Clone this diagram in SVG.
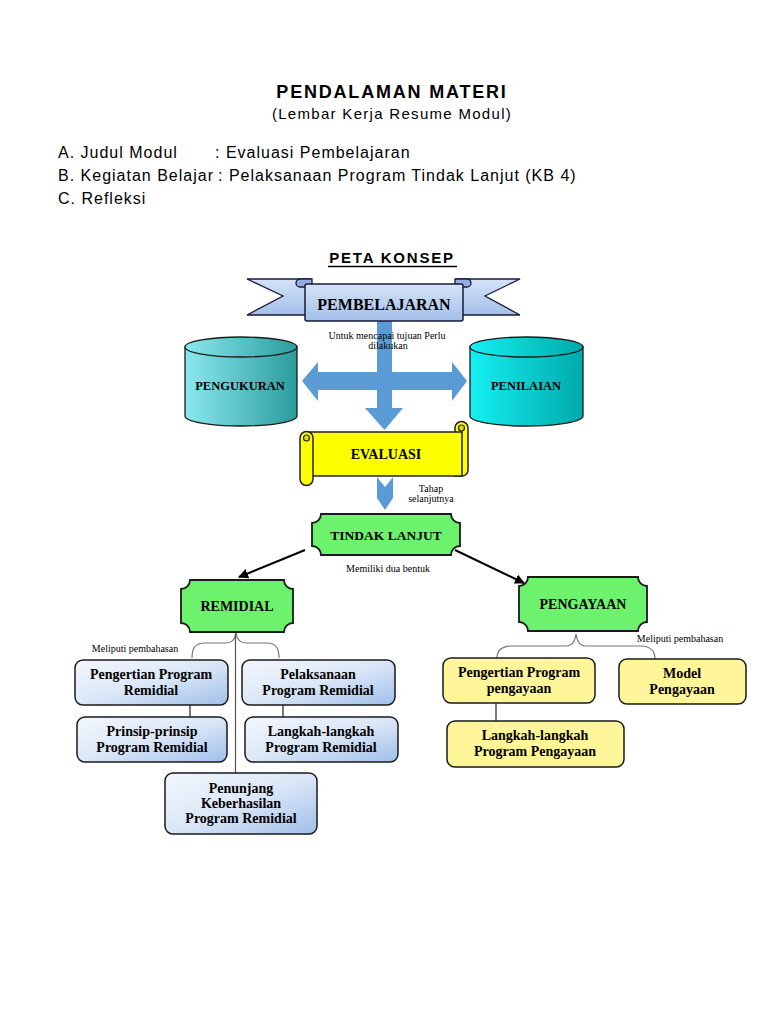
<svg xmlns="http://www.w3.org/2000/svg" width="768" height="1024" viewBox="0 0 768 1024">
<defs>
<linearGradient id="gBlue" x1="0" y1="0" x2="1" y2="1"><stop offset="0" stop-color="#f3f7fd"/><stop offset="0.5" stop-color="#dbe7f7"/><stop offset="1" stop-color="#9fbfea"/></linearGradient>
<linearGradient id="gRib" x1="0" y1="0" x2="0" y2="1"><stop offset="0" stop-color="#d5e3f7"/><stop offset="1" stop-color="#a3c0ea"/></linearGradient>
<linearGradient id="gCylL" x1="0" y1="0" x2="1" y2="0"><stop offset="0" stop-color="#8ae8ee"/><stop offset="1" stop-color="#2a9c9e"/></linearGradient>
<linearGradient id="gCylR" x1="0" y1="0" x2="1" y2="0"><stop offset="0" stop-color="#14f0f2"/><stop offset="1" stop-color="#00a9aa"/></linearGradient>
<marker id="ah" viewBox="0 0 10 10" refX="9" refY="5" markerWidth="5" markerHeight="5" orient="auto"><path d="M0,0 L10,5 L0,10 Z" fill="#000"/></marker>
<style>
.hd{font-family:"Liberation Sans",Arial,sans-serif;fill:#000}
.nb{font-family:"Liberation Serif","Times New Roman",serif;font-weight:bold;fill:#000;text-anchor:middle}
.sm{font-family:"Liberation Serif","Times New Roman",serif;font-size:10px;fill:#000;text-anchor:middle}
.box{fill:url(#gBlue);stroke:#1a1a1a;stroke-width:1.5}
.ybox{fill:#fff69a;stroke:#1a1a1a;stroke-width:1.5}
.plq{fill:#6cf26c;stroke:#1a1a1a;stroke-width:1.8}
.cyl{stroke:#1a1a1a;stroke-width:1.3}
.conn{fill:none;stroke:#222;stroke-width:1.2}
.brace{fill:none;stroke:#777;stroke-width:1.2}
.arw{fill:none;stroke:#000;stroke-width:2;marker-end:url(#ah)}
.blu{fill:#5b9bd5}
</style>
</defs>
<rect width="768" height="1024" fill="#fff"/>

<g id="header">
<text class="hd" x="392" y="98" font-size="18" font-weight="bold" letter-spacing="1.8" text-anchor="middle">PENDALAMAN MATERI</text>
<text class="hd" x="392" y="119" font-size="15" letter-spacing="1.3" text-anchor="middle">(Lembar Kerja Resume Modul)</text>
<text class="hd" x="58" y="158" font-size="16" letter-spacing="1">A. Judul Modul</text>
<text class="hd" x="215" y="158" font-size="16" letter-spacing="1">: Evaluasi Pembelajaran</text>
<text class="hd" x="58" y="181" font-size="16" letter-spacing="1">B. Kegiatan Belajar</text>
<text class="hd" x="218" y="181" font-size="16" letter-spacing="1">: Pelaksanaan Program Tindak Lanjut (KB 4)</text>
<text class="hd" x="58" y="204" font-size="16" letter-spacing="1">C. Refleksi</text>
<text class="hd" x="392" y="263" font-size="15" font-weight="bold" letter-spacing="1.8" text-anchor="middle">PETA KONSEP</text>
<line x1="328" y1="266.5" x2="457" y2="266.5" stroke="#000" stroke-width="1.3"/>
</g>

<g id="cross-arrow">
<path class="blu" d="M377,320 H392 V372 H452 V362 L467,381 L452,401 V390 H392 V408 H403 L384.5,430 L365,408 H377 V390 H318 V401 L302,381 L318,362 V372 H377 Z"/>
</g>

<g id="pembelajaran">
<path fill="url(#gRib)" stroke="#1a1a3a" stroke-width="1.3" d="M247,279 H310 V315 H247 L283,296 Z"/>
<path fill="url(#gRib)" stroke="#1a1a3a" stroke-width="1.3" d="M520,279 H457 V315 H520 L485,296 Z"/>
<path fill="#8fb0e0" stroke="#1a1a3a" stroke-width="1.3" d="M300,279 H312 V287 H300 A4,4 0 0 1 300,279 Z"/>
<path fill="#8fb0e0" stroke="#1a1a3a" stroke-width="1.3" d="M467,279 H455 V287 H467 A4,4 0 0 0 467,279 Z"/>
<rect x="305" y="284" width="158" height="37" rx="2" fill="url(#gRib)" stroke="#1a1a3a" stroke-width="1.5"/>
<text class="nb" x="384" y="310" font-size="16">PEMBELAJARAN</text>
</g>

<g id="pengukuran">
<path class="cyl" fill="url(#gCylL)" d="M185,347 V416 A56,10 0 0 0 297,416 V347 Z"/>
<ellipse class="cyl" cx="241" cy="347" rx="56" ry="10" fill="url(#gCylL)"/>
<text class="nb" x="240" y="390" font-size="12.5">PENGUKURAN</text>
</g>

<g id="penilaian">
<path class="cyl" fill="url(#gCylR)" d="M470,347 V416 A56.5,10 0 0 0 583,416 V347 Z"/>
<ellipse class="cyl" cx="526.5" cy="347" rx="56.5" ry="10" fill="url(#gCylR)"/>
<text class="nb" x="526" y="390" font-size="12.5">PENILAIAN</text>
</g>

<g id="label-untuk">
<text class="sm" x="387" y="339">Untuk mencapai tujuan Perlu</text>
<text class="sm" x="388" y="349">dilakukan</text>
</g>

<g id="evaluasi">
<path fill="#ffff00" stroke="#222" stroke-width="1.5" d="M455,476 V428 A6.5,6.5 0 0 1 468,428 V470 A6,6 0 0 1 462,476 Z"/>
<rect x="306" y="432" width="156" height="44" fill="#ffff00" stroke="#222" stroke-width="1.5"/>
<circle cx="461.5" cy="428" r="3" fill="#dddd00" stroke="#222" stroke-width="1.2"/>
<path fill="#ffff00" stroke="#222" stroke-width="1.5" d="M300,438 A6.5,6.5 0 0 1 313,438 V479 A6.5,6.5 0 0 1 300,479 Z"/>
<circle cx="306.5" cy="438" r="3" fill="#dddd00" stroke="#222" stroke-width="1.2"/>
<text class="nb" x="386" y="459" font-size="14">EVALUASI</text>
</g>

<g id="down-arrow">
<path class="blu" d="M377,477 L385,487 L393,477 V498 L385,510 L377,498 Z"/>
<text class="sm" x="431" y="492">Tahap</text>
<text class="sm" x="431" y="502">selanjutnya</text>
</g>

<g id="tindak-lanjut">
<path class="plq" d="M321,514 H451 A9,9 0 0 0 460,523 V546 A9,9 0 0 0 451,555 H321 A9,9 0 0 0 312,546 V523 A9,9 0 0 0 321,514 Z"/>
<text class="nb" x="386" y="540" font-size="13.5">TINDAK LANJUT</text>
</g>

<g id="label-memiliki">
<text class="sm" x="388" y="572" font-size="10.5">Memiliki dua bentuk</text>
</g>

<g id="remidial">
<path class="plq" d="M190,580 H284 A9,9 0 0 0 293,589 V623 A9,9 0 0 0 284,632 H190 A9,9 0 0 0 181,623 V589 A9,9 0 0 0 190,580 Z"/>
<text class="nb" x="237" y="611" font-size="14">REMIDIAL</text>
</g>

<g id="pengayaan">
<path class="plq" d="M528,577 H638 A9,9 0 0 0 647,586 V622 A9,9 0 0 0 638,631 H528 A9,9 0 0 0 519,622 V586 A9,9 0 0 0 528,577 Z"/>
<text class="nb" x="583" y="609" font-size="14">PENGAYAAN</text>
</g>

<g id="connectors">
<line class="arw" x1="305" y1="550" x2="239" y2="577"/>
<line class="arw" x1="455" y1="550" x2="524" y2="583"/>
<path class="brace" d="M192,658 C192,648 195,643 205,643 H226 C232,643 235,640 236,633 C237,640 240,643 246,643 H267 C276,643 279,648 279,658"/>
<line x1="235.5" y1="633" x2="235.5" y2="773" stroke="#555" stroke-width="1.2"/>
<line class="conn" x1="190" y1="705" x2="190" y2="717"/>
<line class="conn" x1="283" y1="705" x2="283" y2="717"/>
<path class="brace" d="M497,658 C497,650 502,646 512,646 H566 C572,646 575,642 576,634 C577,642 580,646 586,646 H640 C650,646 655,650 655,659"/>
<line class="conn" x1="496" y1="703" x2="496" y2="721"/>
</g>

<g id="label-meliputi">
<text class="sm" x="135" y="652" font-size="10.5">Meliputi pembahasan</text>
<text class="sm" x="680" y="642" font-size="10.5">Meliputi pembahasan</text>
</g>

<g id="pengertian-remidial">
<rect class="box" x="75" y="660" width="153" height="45" rx="8"/>
<text class="nb" x="151" y="679" font-size="14">Pengertian Program</text>
<text class="nb" x="151" y="695" font-size="14">Remidial</text>
</g>
<g id="pelaksanaan-remidial">
<rect class="box" x="242" y="660" width="153" height="45" rx="8"/>
<text class="nb" x="318" y="679" font-size="14">Pelaksanaan</text>
<text class="nb" x="318" y="695" font-size="14">Program Remidial</text>
</g>
<g id="prinsip-remidial">
<rect class="box" x="77" y="717" width="150" height="45" rx="8"/>
<text class="nb" x="152" y="736" font-size="14">Prinsip-prinsip</text>
<text class="nb" x="152" y="752" font-size="14">Program Remidial</text>
</g>
<g id="langkah-remidial">
<rect class="box" x="245" y="717" width="153" height="45" rx="8"/>
<text class="nb" x="321" y="736" font-size="14">Langkah-langkah</text>
<text class="nb" x="321" y="752" font-size="14">Program Remidial</text>
</g>
<g id="penunjang-remidial">
<rect class="box" x="165" y="773" width="152" height="61" rx="8"/>
<text class="nb" x="241" y="793" font-size="14">Penunjang</text>
<text class="nb" x="241" y="808" font-size="14">Keberhasilan</text>
<text class="nb" x="241" y="823" font-size="14">Program Remidial</text>
</g>

<g id="pengertian-pengayaan">
<rect class="ybox" x="443" y="658" width="152" height="45" rx="8"/>
<text class="nb" x="519" y="677" font-size="14">Pengertian Program</text>
<text class="nb" x="519" y="693" font-size="14">pengayaan</text>
</g>
<g id="model-pengayaan">
<rect class="ybox" x="619" y="659" width="127" height="45" rx="8"/>
<text class="nb" x="682" y="678" font-size="14">Model</text>
<text class="nb" x="682" y="694" font-size="14">Pengayaan</text>
</g>
<g id="langkah-pengayaan">
<rect class="ybox" x="447" y="721" width="177" height="46" rx="8"/>
<text class="nb" x="535" y="740" font-size="14">Langkah-langkah</text>
<text class="nb" x="535" y="756" font-size="14">Program Pengayaan</text>
</g>
</svg>
